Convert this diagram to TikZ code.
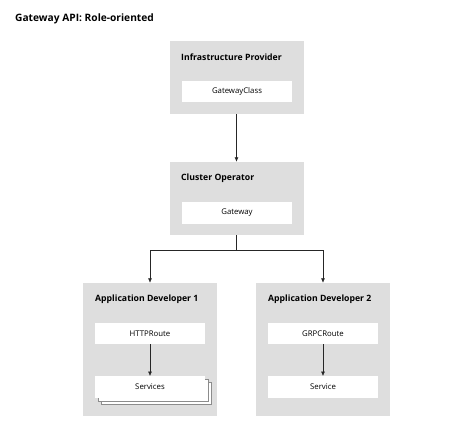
\documentclass[tikz,border=0pt]{standalone}
\usepackage{fontspec}
\setmainfont{Open Sans}
\usetikzlibrary{arrows.meta}

\definecolor{rolegray}{HTML}{DEDEDE}

\tikzset{
  rolebox/.style={fill=rolegray, draw=none, minimum width=134pt, inner sep=0pt},
  objbox/.style={fill=white, draw=none, minimum width=110pt, minimum height=21.5pt, inner sep=0pt, font=\fontsize{7.8}{9}\selectfont},
  rolelabel/.style={anchor=west, inner sep=0pt, font=\fontsize{8.7}{10}\selectfont\bfseries},
  flow/.style={-{Latex[length=4.5pt,width=4pt]}, draw=black!85, line width=0.6pt},
}

\begin{document}
\begin{tikzpicture}[x=1pt, y=-1pt]
  \useasboundingbox (0,0) rectangle (474,442);
  \node[anchor=west, inner sep=0pt, font=\fontsize{10.2}{12}\selectfont\bfseries] (title) at (15,19) {Gateway API: Role-oriented};

  % role boxes
  \node[rolebox, minimum height=73pt]  (infra)    at (236.5,77.5)  {};
  \node[rolebox, minimum height=73pt]  (operator) at (236.5,198.5) {};
  \node[rolebox, minimum height=133pt] (dev1)     at (150,349.5)   {};
  \node[rolebox, minimum height=133pt] (dev2)     at (323,349.5)   {};

  \node[rolelabel] (infralbl) at (181,57)  {Infrastructure Provider};
  \node[rolelabel] (oplbl)    at (181,178) {Cluster Operator};
  \node[rolelabel] (dev1lbl)  at (95,299)  {Application Developer 1};
  \node[rolelabel] (dev2lbl)  at (268,299) {Application Developer 2};

  % resources
  \node[objbox] (gwclass) at (237,91.5) {GatewayClass};
  \node[objbox] (gw)      at (237,213)  {Gateway};
  \node[objbox] (http)    at (150,333.5) {HTTPRoute};
  \node[objbox] (grpc)    at (323,333.5) {GRPCRoute};
  \foreach \d in {6,3}
  {  \draw[black!45, fill=white, line width=0.4pt] ([shift={(\d,\d)}]150-55,387-11) rectangle ([shift={(\d,\d)}]150+55,387+11);
  }
  \node[objbox] (svcs)    at (150,387)  {Services};
  \node[objbox] (svc)     at (323,387)  {Service};

  % connectors
  \coordinate (split) at (236.5,250);
  \draw[flow] (infra.south) -- (operator.north);
  \foreach \u\v in {dev1, dev2}
  {  \draw[flow] (operator.south) -- (split) -| (\v.north);
  }
  \draw[flow] (http.south) -- (svcs.north);
  \draw[flow] (grpc.south) -- (svc.north);
\end{tikzpicture}
\end{document}
